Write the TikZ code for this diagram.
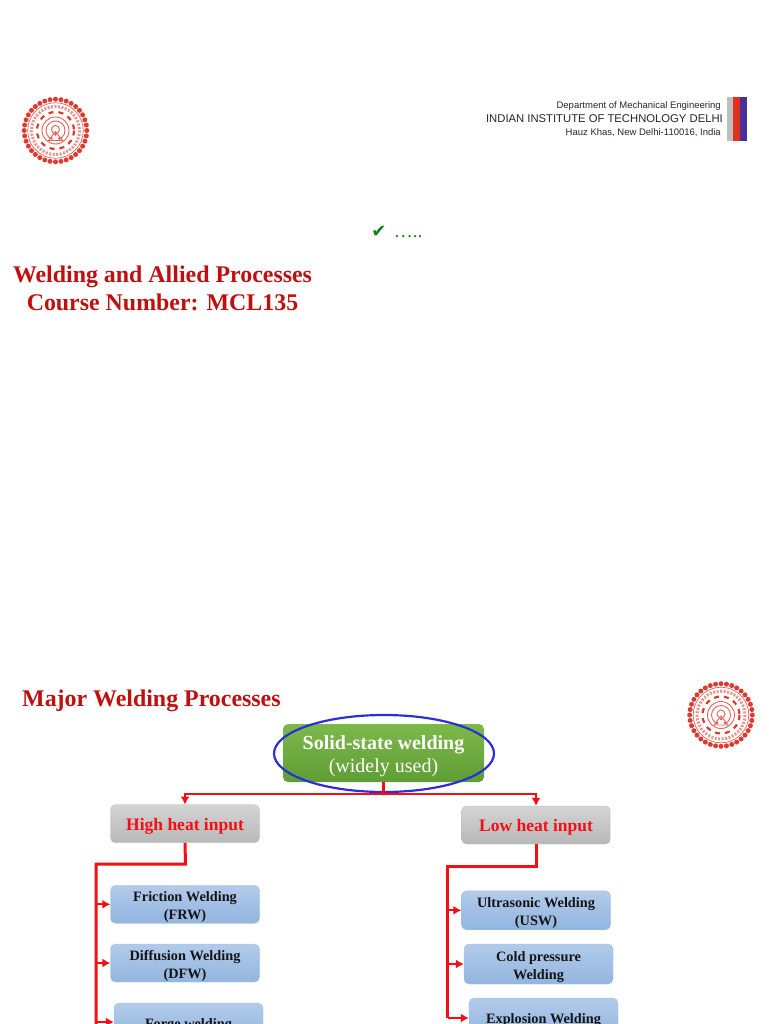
\documentclass[tikz,border=0pt]{standalone}
\usepackage{fontspec}
\setmainfont{Liberation Serif}
\newfontfamily\hdrsans{Liberation Sans}
\newfontfamily\symfont{DejaVu Sans}
\usetikzlibrary{arrows.meta,calc,shapes.geometric}
\definecolor{logored}{HTML}{DE3A30}
\definecolor{titlered}{HTML}{C00F0F}
\definecolor{linered}{HTML}{F50F14}
\definecolor{checkgreen}{HTML}{0F8020}
\definecolor{BoxTop}{HTML}{B2CBEA}
\definecolor{BoxBot}{HTML}{92B5DF}
\definecolor{GrayTop}{HTML}{D4D4D4}
\definecolor{GrayBot}{HTML}{B8B8B8}
\definecolor{GreenTop}{HTML}{7DB84A}
\definecolor{GreenBot}{HTML}{5F9E35}
\definecolor{HaloBlue}{HTML}{2B2FD8}
\definecolor{StripGray}{HTML}{BEBEBE}
\definecolor{StripRed}{HTML}{E03020}
\definecolor{StripBlue}{HTML}{47309C}
\newcommand{\dropby}[1]{\rule{0pt}{#1pt}}
\tikzset{
  x=1pt,y=-1pt,
  boxbase/.style={rounded corners=5pt,minimum width=149pt,inner sep=0pt,align=center,font=\bfseries\fontsize{14.3}{18}\selectfont},
  procbox/.style={boxbase,minimum height=38pt,top color=BoxTop,bottom color=BoxBot,draw=BoxBot!90!white,line width=.3pt,text=black!92},
  heatbox/.style={boxbase,minimum height=38pt,top color=GrayTop,bottom color=GrayBot,draw=GrayBot,line width=.3pt,text=linered,font=\bfseries\fontsize{17.5}{20}\selectfont},
  rootbox/.style={boxbase,minimum width=201pt,minimum height=58pt,top color=GreenTop,bottom color=GreenBot,draw=none,text=white,font=\fontsize{20}{23.5}\selectfont},
  halo/.style={ellipse,draw=HaloBlue,line width=2.2pt,minimum width=220pt,minimum height=77pt,inner sep=0pt},
  feed/.style={draw=linered,line width=2.2pt,-{Latex[length=8pt,width=9pt]}},
  trunk/.style={draw=linered,line width=3pt},
  titletext/.style={text=titlered,font=\bfseries\fontsize{23.9}{28}\selectfont,inner sep=0pt,align=center},
  hdr/.style={inner sep=0pt,text=black!85,anchor=east},
  pics/iitlogo/.style={code={
    \foreach \a in {0,10,...,350} \fill[logored] (\a:31.3) circle (2.5);
    \draw[logored!80,line width=.7pt] (0,0) circle (27.8);
    \draw[logored!55,line width=3pt,dash pattern=on 2pt off 1.5pt] (0,0) circle (24);
    \draw[logored,line width=2.2pt,dash pattern=on 5pt off 5pt] (0,0) circle (18.5);
    \draw[logored!80,line width=.9pt] (0,0) circle (13.5);
    \draw[logored!80,line width=.9pt] (0,0) circle (9.5);
    \draw[logored!80,line width=.9pt] (0,-1) circle (4);
    \draw[logored!80,line width=.9pt,fill=white] (-7,10) -- (0,1) -- (7,10) -- cycle;
    \fill[logored!80] (-4,8) circle (1.5) (4,8) circle (1.5) (0,4) circle (1.5);
  }}
}
\begin{document}
\begin{tikzpicture}
\useasboundingbox (0,0) rectangle (768,1024);
\clip (0,0) rectangle (768,1024);
% logos
\pic at (55.5,130.5) {iitlogo};
\pic at (721,715) {iitlogo};
% header
\node[hdr,font=\hdrsans\fontsize{9.5}{10}\selectfont] (dept) at (721,106) {Department of Mechanical Engineering};
\node[hdr,font=\hdrsans\fontsize{11.27}{14}\selectfont] (inst) at (723,118.5) {INDIAN INSTITUTE OF TECHNOLOGY DELHI};
\node[hdr,font=\hdrsans\fontsize{9.5}{10}\selectfont] (addr) at (721,133) {Hauz Khas, New Delhi-110016, India};
\fill[StripGray] (726.7,97) rectangle (733.3,141.5);
\fill[StripRed] (733.3,97) rectangle (740,141.5);
\fill[StripBlue] (740,97) rectangle (746.7,141.5);
% bullet
\node[inner sep=0pt,text=checkgreen,font=\symfont\fontsize{18}{20}\selectfont] (tick) at (379,232) {✔};
\node[inner sep=0pt,text=checkgreen,font=\fontsize{19}{21}\selectfont] (dots) at (408,237) {…..};
% titles
\node[titletext] (course) at (162.5,288) {Welding and Allied Processes\\Course Number: MCL135};
\node[titletext,anchor=west] (major) at (22,700.5) {Major Welding Processes};
% root
\node[rootbox] (root) at (383.5,753) {\dropby{20}\textbf{Solid-state welding}\\(widely used)};
\node[halo] (ring) at (384,753.5) {};
% heat boxes
\node[heatbox] (high) at (185,823.7) {\dropby{18}High heat input};
\node[heatbox] (low) at (536,825) {\dropby{16}Low heat input};
% process boxes
\node[procbox] (frw) at (185,904.3) {\dropby{16}Friction Welding\\(FRW)};
\node[procbox] (dfw) at (185,963) {\dropby{16}Diffusion Welding\\(DFW)};
\node[procbox] (fgw) at (188.5,1022) {\dropby{17}Forge welding};
\node[procbox,minimum height=39pt] (usw) at (536,910.3) {\dropby{16}Ultrasonic Welding\\(USW)};
\node[procbox,minimum height=40pt] (cpw) at (538.5,964) {\dropby{16}Cold pressure\\Welding};
\node[procbox,minimum height=40pt] (exw) at (543.5,1018) {\dropby{15}Explosion Welding};
% connectors
\coordinate (split) at (root.south|-0,794);
\draw[trunk,line width=2.4pt] (root.south) -- (split);
\draw[feed] (split) -| (high.north);
\draw[feed] (split) -| (low.north);
% high branch
\coordinate (hknee) at (185.5,864);
\coordinate (htrunk) at (96,864);
\draw[trunk] (high.south) -- (hknee) -- (htrunk) -- (96,1030);
\draw[feed] (frw.west-|htrunk) -- (frw.west);
\draw[feed] (dfw.west-|htrunk) -- (dfw.west);
\draw[feed] (fgw.west-|htrunk) -- (fgw.west);
% low branch
\coordinate (lknee) at (536,866.5);
\coordinate (ltrunk) at (447.5,866.5);
\draw[trunk] (low.south) -- (lknee) -- (ltrunk) -- (exw.west-|ltrunk);
\draw[feed] (usw.west-|ltrunk) -- (usw.west);
\draw[feed] (cpw.west-|ltrunk) -- (cpw.west);
\draw[feed] (exw.west-|ltrunk) -- (exw.west);
\end{tikzpicture}
\end{document}
